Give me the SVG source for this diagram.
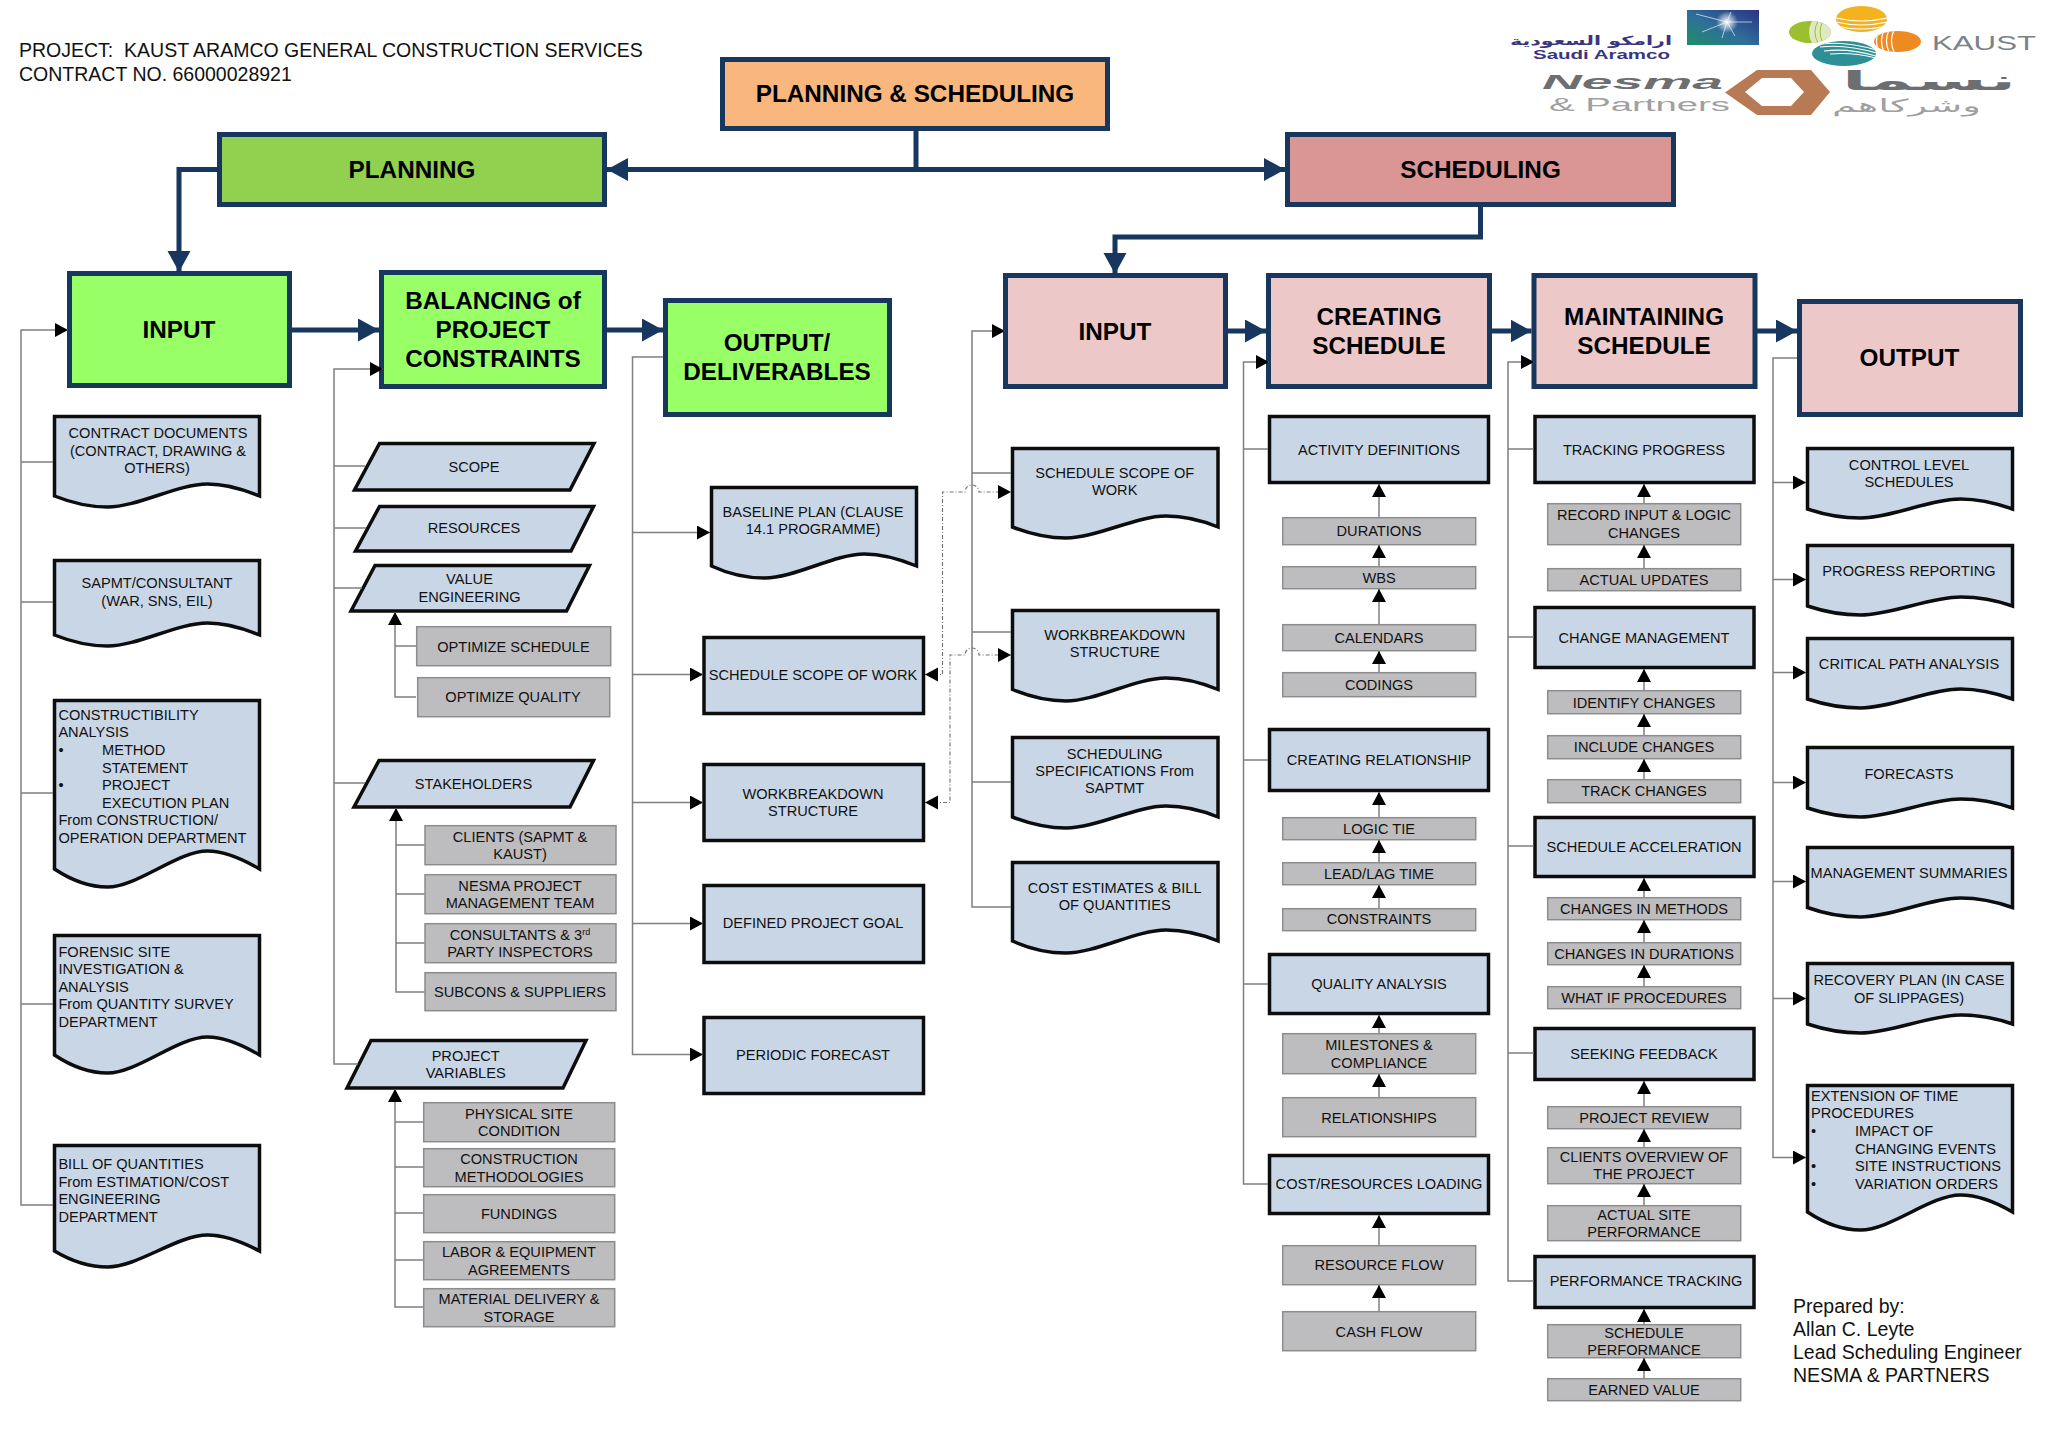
<svg xmlns="http://www.w3.org/2000/svg" width="2048" height="1448" viewBox="0 0 2048 1448">
<style>
text{font-family:"Liberation Sans",Arial,sans-serif;fill:#111}
.t{font-size:14.6px;text-anchor:middle;transform:translate(0,.7px)}
.l{font-size:14.6px;transform:translate(0,.7px)}
.h{font-size:24.3px;font-weight:bold;text-anchor:middle;fill:#000;transform:translate(0,.5px)}
.p{font-size:19.5px;white-space:pre}
.n{stroke:#17375e;stroke-width:5}
.b{fill:#c9d6e6;stroke:#0d0d0d;stroke-width:3.5}
.g{fill:#bdbcbf;stroke:#8c8c8c;stroke-width:1.5}
.thick{fill:none;stroke:#17375e;stroke-width:5}
.thin{fill:none;stroke:#7f7f7f;stroke-width:1.5}
.ar{marker-end:url(#ah)}
.nr{marker-end:url(#nh)}
.dash{fill:none;stroke:#777;stroke-width:1.2;stroke-dasharray:4 2 1 2;marker-start:url(#ah);marker-end:url(#ah)}
.st{fill:none;stroke:#fff;stroke-width:1.2}
</style>
<defs>
<marker id="ah" markerUnits="userSpaceOnUse" markerWidth="14" markerHeight="16" refX="13" refY="7" orient="auto-start-reverse"><path d="M0 0L13 7L0 14Z" fill="#000"/></marker>
<marker id="nh" markerUnits="userSpaceOnUse" markerWidth="22" markerHeight="24" refX="21" refY="11.5" orient="auto"><path d="M0 0L21 11.5L0 23Z" fill="#17375e"/></marker>
<linearGradient id="sa" x1="1" y1="0" x2="0" y2="1"><stop offset="0" stop-color="#2b3485"/><stop offset=".55" stop-color="#2f6f9a"/><stop offset="1" stop-color="#1f8f62"/></linearGradient>
<radialGradient id="st"><stop offset="0" stop-color="#fff"/><stop offset="1" stop-color="#fff" stop-opacity="0"/></radialGradient>
<clipPath id="cy"><ellipse cx="1861.500" cy="19" rx="25.500" ry="13"/></clipPath>
<clipPath id="co"><ellipse cx="1897.500" cy="41.500" rx="23.500" ry="10.500"/></clipPath>
<clipPath id="cg"><ellipse cx="1810" cy="32" rx="21" ry="11"/></clipPath>
<clipPath id="ct"><ellipse cx="1844" cy="53.500" rx="32" ry="12.500"/></clipPath>
</defs>
<rect width="2048" height="1448" fill="#fff"/>

<g id="header">
<text class="p" x="19" y="57" xml:space="preserve">PROJECT:  KAUST ARAMCO GENERAL CONSTRUCTION SERVICES</text>
<text class="p" x="19" y="80.5">CONTRACT NO. 66000028921</text>
</g>
<g id="logos">
<rect x="1687" y="10" width="72" height="35" fill="url(#sa)"/>
<circle cx="1727" cy="22" r="11" fill="url(#st)"/>
<path d="M1727 22L1696 14M1727 22L1752 22M1727 22L1735 36M1727 22L1722 38M1727 22L1702 32M1727 22L1731 12" stroke="#fff" stroke-width=".8" opacity=".8"/>
<text x="1510" y="45" font-size="12.500" font-weight="bold" textLength="162" lengthAdjust="spacingAndGlyphs" style="font-family:'DejaVu Sans',sans-serif;fill:#3a3580">ارامكو السعودية</text>
<text x="1533" y="58.500" font-size="12" font-weight="bold" textLength="137" lengthAdjust="spacingAndGlyphs" style="fill:#3a3580">Saudi Aramco</text>
<ellipse cx="1861.500" cy="19" rx="25.500" ry="13" fill="#f5b21f"/>
<g clip-path="url(#cy)"><path class="st" d="M1836 18q25 6 52 0M1836 22q25 6 52 0M1836 26q25 6 52 0"/></g>
<ellipse cx="1897.500" cy="41.500" rx="23.500" ry="10.500" fill="#ee8a22"/>
<g clip-path="url(#co)"><path class="st" d="M1879 30q-5 11 0 22M1884 30q-5 11 0 22M1889 30q-5 11 0 22M1894 30q-5 11 0 22"/></g>
<ellipse cx="1810" cy="32" rx="21" ry="11" fill="#9bbf2e"/>
<g clip-path="url(#cg)"><path d="M1812 21h20v22h-20q-6-11 0-22z" fill="#dfe8c0"/><path d="M1818 21q-6 11 0 22M1823 21q-6 11 0 22" fill="none" stroke="#9bbf2e" stroke-width="1"/></g>
<ellipse cx="1844" cy="53.500" rx="32" ry="12.500" fill="#2f8f97"/>
<g clip-path="url(#ct)"><path class="st" d="M1822 44q24-3 54 6M1820 47q26-3 56 6M1824 51q24-3 52 5M1830 54q22-2 46 4"/></g>
<text x="1932" y="50" font-size="19.500" textLength="104" lengthAdjust="spacingAndGlyphs" style="fill:#7a8488">KAUST</text>
<text x="1542" y="89" font-size="20" font-weight="bold" font-style="italic" textLength="181" lengthAdjust="spacingAndGlyphs" style="fill:#6d6e71">Nesma</text>
<text x="1549" y="111" font-size="18" textLength="181" lengthAdjust="spacingAndGlyphs" style="fill:#a0a0a0">&amp; Partners</text>
<path d="M1757 70H1811L1830 92L1811 115H1757L1725 92.500ZM1762 78L1745 92L1762 106H1791L1804 92L1791 78Z" fill="#b87a55" fill-rule="evenodd"/>
<text x="1842" y="90" font-size="26" font-weight="bold" textLength="174" lengthAdjust="spacingAndGlyphs" style="font-family:'DejaVu Sans',sans-serif;fill:#6d6e71">نسما</text>
<text x="1832" y="112" font-size="18" textLength="149" lengthAdjust="spacingAndGlyphs" style="font-family:'DejaVu Sans',sans-serif;fill:#a0a0a0">وشركاهم</text>
</g>

<g id="n-planning-scheduling"><rect class="n" x="722.500" y="59.500" width="385" height="69" fill="#f9b77e"/><text class="h" x="915" y="101">PLANNING &amp; SCHEDULING</text></g>
<g id="n-planning"><rect class="n" x="219.500" y="134.500" width="385" height="70" fill="#92d050"/><text class="h" x="412" y="177">PLANNING</text></g>
<g id="n-scheduling"><rect class="n" x="1287.500" y="134.500" width="386" height="70" fill="#d99694"/><text class="h" x="1480.500" y="177">SCHEDULING</text></g>
<g id="n-p-input"><rect class="n" x="69.500" y="273.500" width="220" height="112" fill="#99ff66"/><text class="h" x="179" y="337">INPUT</text></g>
<g id="n-balancing"><rect class="n" x="381.500" y="272.500" width="223" height="114" fill="#99ff66"/><text class="h" x="493" y="308">BALANCING of</text><text class="h" x="493" y="337.300">PROJECT</text><text class="h" x="493" y="366.700">CONSTRAINTS</text></g>
<g id="n-output-del"><rect class="n" x="665.500" y="300.500" width="224" height="114" fill="#99ff66"/><text class="h" x="777" y="350.300">OUTPUT/</text><text class="h" x="777" y="379.300">DELIVERABLES</text></g>
<g id="n-s-input"><rect class="n" x="1005.500" y="275.500" width="220" height="111" fill="#ecc9c8"/><text class="h" x="1115" y="339">INPUT</text></g>
<g id="n-creating"><rect class="n" x="1268.500" y="275.500" width="221" height="111" fill="#ecc9c8"/><text class="h" x="1379" y="324.300">CREATING</text><text class="h" x="1379" y="353.700">SCHEDULE</text></g>
<g id="n-maintaining"><rect class="n" x="1534" y="275.500" width="221" height="111" fill="#ecc9c8"/><text class="h" x="1644" y="324.300">MAINTAINING</text><text class="h" x="1644" y="353.700">SCHEDULE</text></g>
<g id="n-output"><rect class="n" x="1799.500" y="301.500" width="221" height="113" fill="#ecc9c8"/><text class="h" x="1909.500" y="365.700">OUTPUT</text></g>

<g id="d-contract"><path class="b" d="M54.500 416.500H259.500V496c-17-7-34-12-52-12c-30 0-70 23-100 23c-20 0-38-5-53-11z"/><text class="t" x="158" y="437.500">CONTRACT DOCUMENTS</text><text class="t" x="158" y="455">(CONTRACT, DRAWING &amp;</text><text class="t" x="157" y="472.500">OTHERS)</text></g>
<g id="d-sapmt"><path class="b" d="M54.500 560.500H259.500V635c-17-7-34-12-52-12c-30 0-70 23-100 23c-20 0-38-5-53-11z"/><text class="t" x="157" y="587.600">SAPMT/CONSULTANT</text><text class="t" x="157" y="605.300">(WAR, SNS, EIL)</text></g>
<g id="d-construct"><path class="b" d="M54.500 700.500H259.500V869c-17-10-34-18-52-18c-30 0-70 36-100 36c-20 0-38-8-53-18z"/><text class="l" x="58.400" y="719.300">CONSTRUCTIBILITY</text><text class="l" x="58.400" y="736.600">ANALYSIS</text><text class="l" x="58.400" y="754.600">•</text><text class="l" x="102" y="754.600">METHOD</text><text class="l" x="102" y="772">STATEMENT</text><text class="l" x="58.400" y="789.300">•</text><text class="l" x="102" y="789.300">PROJECT</text><text class="l" x="102" y="807">EXECUTION PLAN</text><text class="l" x="58.400" y="824.600">From CONSTRUCTION/</text><text class="l" x="58.400" y="842.300">OPERATION DEPARTMENT</text></g>
<g id="d-forensic"><path class="b" d="M54.500 935.500H259.500V1055c-17-10-34-18-52-18c-30 0-70 36-100 36c-20 0-38-8-53-18z"/><text class="l" x="58.400" y="956.300">FORENSIC SITE</text><text class="l" x="58.400" y="973.600">INVESTIGATION &amp;</text><text class="l" x="58.400" y="991.300">ANALYSIS</text><text class="l" x="58.400" y="1008.600">From QUANTITY SURVEY</text><text class="l" x="58.400" y="1026">DEPARTMENT</text></g>
<g id="d-bill"><path class="b" d="M54.500 1145.500H259.500V1251c-17-9-34-16-52-16c-30 0-70 32-100 32c-20 0-38-7-53-16z"/><text class="l" x="58.400" y="1168.600">BILL OF QUANTITIES</text><text class="l" x="58.400" y="1186.300">From ESTIMATION/COST</text><text class="l" x="58.400" y="1203.600">ENGINEERING</text><text class="l" x="58.400" y="1221.300">DEPARTMENT</text></g>

<g id="s-scope"><path class="b" d="M379.500 443.500H594L570 490H354.500Z"/><text class="t" x="474" y="471">SCOPE</text></g>
<g id="s-resources"><path class="b" d="M379.500 506.500H593.500L571 551H355.500Z"/><text class="t" x="474" y="532.300">RESOURCES</text></g>
<g id="s-value"><path class="b" d="M375 565.500H589.500L566.500 611H351Z"/><text class="t" x="469.500" y="583.600">VALUE</text><text class="t" x="469.500" y="601">ENGINEERING</text></g>
<g id="s-stakeholders"><path class="b" d="M379 760.500H593.500L570 807H354Z"/><text class="t" x="473.500" y="788">STAKEHOLDERS</text></g>
<g id="s-variables"><path class="b" d="M371 1040.500H586L563 1088H347Z"/><text class="t" x="465.700" y="1060">PROJECT</text><text class="t" x="465.700" y="1077.300">VARIABLES</text></g>
<g id="g-opt-schedule"><rect class="g" x="416.700" y="626.700" width="194" height="39"/><text class="t" x="513.500" y="651">OPTIMIZE SCHEDULE</text></g>
<g id="g-opt-quality"><rect class="g" x="417.700" y="677.700" width="192" height="39"/><text class="t" x="513" y="701.600">OPTIMIZE QUALITY</text></g>
<g id="g-clients"><rect class="g" x="425" y="825.700" width="191" height="39"/><text class="t" x="520" y="841.300">CLIENTS (SAPMT &amp;</text><text class="t" x="520" y="858.600">KAUST)</text></g>
<g id="g-nesma"><rect class="g" x="425" y="874.700" width="191" height="39"/><text class="t" x="520" y="890.300">NESMA PROJECT</text><text class="t" x="520" y="907.600">MANAGEMENT TEAM</text></g>
<g id="g-consultants"><rect class="g" x="425" y="923.700" width="191" height="39"/><text class="t" x="520" y="939.300">CONSULTANTS &amp; 3<tspan font-size="9" dy="-5">rd</tspan></text><text class="t" x="520" y="956.600">PARTY INSPECTORS</text></g>
<g id="g-subcons"><rect class="g" x="425" y="972.700" width="191" height="38"/><text class="t" x="520" y="996">SUBCONS &amp; SUPPLIERS</text></g>
<g id="g-physical"><rect class="g" x="423.700" y="1102.700" width="191" height="39"/><text class="t" x="519" y="1118">PHYSICAL SITE</text><text class="t" x="519" y="1135.300">CONDITION</text></g>
<g id="g-methods"><rect class="g" x="423.700" y="1148.700" width="191" height="38"/><text class="t" x="519" y="1163.300">CONSTRUCTION</text><text class="t" x="519" y="1181">METHODOLOGIES</text></g>
<g id="g-fundings"><rect class="g" x="423.700" y="1194.700" width="191" height="38"/><text class="t" x="519" y="1218">FUNDINGS</text></g>
<g id="g-labor"><rect class="g" x="423.700" y="1241.700" width="191" height="38"/><text class="t" x="519" y="1256.600">LABOR &amp; EQUIPMENT</text><text class="t" x="519" y="1274">AGREEMENTS</text></g>
<g id="g-material"><rect class="g" x="423.700" y="1288.700" width="191" height="38"/><text class="t" x="519" y="1303.600">MATERIAL DELIVERY &amp;</text><text class="t" x="519" y="1321">STORAGE</text></g>

<g id="d-baseline"><path class="b" d="M711.500 487.500H916.500V566c-17-7-34-12-52-12c-30 0-70 24-100 24c-20 0-38-5-53-12z"/><text class="t" x="813" y="516.300">BASELINE PLAN (CLAUSE</text><text class="t" x="813" y="533.600">14.1 PROGRAMME)</text></g>
<g id="b-scope-work"><rect class="b" x="704" y="637.500" width="219.500" height="76"/><text class="t" x="813" y="679.300">SCHEDULE SCOPE OF WORK</text></g>
<g id="b-wbs"><rect class="b" x="704" y="764.500" width="219.500" height="76"/><text class="t" x="813" y="798">WORKBREAKDOWN</text><text class="t" x="813" y="815.300">STRUCTURE</text></g>
<g id="b-goal"><rect class="b" x="704" y="885.500" width="219.500" height="77"/><text class="t" x="813" y="927.600">DEFINED PROJECT GOAL</text></g>
<g id="b-forecast"><rect class="b" x="704" y="1017.500" width="219.500" height="76"/><text class="t" x="813" y="1059">PERIODIC FORECAST</text></g>

<g id="d-s-scope"><path class="b" d="M1012.500 448.500H1218V527c-17-7-34-11-52-11c-30 0-70 22-100 22c-20 0-38-5-53.500-11z"/><text class="t" x="1114.700" y="477.300">SCHEDULE SCOPE OF</text><text class="t" x="1114.700" y="494.600">WORK</text></g>
<g id="d-s-wbs"><path class="b" d="M1012.500 610.500H1218V689.500c-17-7-34-11.500-52-11.500c-30 0-70 23-100 23c-20 0-38-5-53.500-11.500z"/><text class="t" x="1114.700" y="639.600">WORKBREAKDOWN</text><text class="t" x="1114.700" y="656.600">STRUCTURE</text></g>
<g id="d-s-spec"><path class="b" d="M1012.500 737.500H1218V817c-17-7-34-11-52-11c-30 0-70 22-100 22c-20 0-38-5-53.500-11z"/><text class="t" x="1114.700" y="758">SCHEDULING</text><text class="t" x="1114.700" y="775.300">SPECIFICATIONS From</text><text class="t" x="1114.700" y="792.600">SAPTMT</text></g>
<g id="d-s-cost"><path class="b" d="M1012.500 862.500H1218V941c-17-7-34-11-52-11c-30 0-70 23-100 23c-20 0-38-5-53.500-12z"/><text class="t" x="1114.700" y="892">COST ESTIMATES &amp; BILL</text><text class="t" x="1114.700" y="909">OF QUANTITIES</text></g>

<g id="b-activity"><rect class="b" x="1269.500" y="416.500" width="219" height="66"/><text class="t" x="1379" y="454">ACTIVITY DEFINITIONS</text></g>
<g id="g-durations"><rect class="g" x="1282.700" y="517.700" width="193" height="27"/><text class="t" x="1379" y="535.300">DURATIONS</text></g>
<g id="g-wbs"><rect class="g" x="1282.700" y="566.700" width="193" height="22"/><text class="t" x="1379" y="582">WBS</text></g>
<g id="g-calendars"><rect class="g" x="1282.700" y="624.700" width="193" height="26"/><text class="t" x="1379" y="642">CALENDARS</text></g>
<g id="g-codings"><rect class="g" x="1282.700" y="672.700" width="193" height="24"/><text class="t" x="1379" y="689.300">CODINGS</text></g>
<g id="b-relationship"><rect class="b" x="1269.500" y="729.500" width="219" height="61"/><text class="t" x="1379" y="764">CREATING RELATIONSHIP</text></g>
<g id="g-logic"><rect class="g" x="1282.700" y="817.700" width="193" height="22"/><text class="t" x="1379" y="833.300">LOGIC TIE</text></g>
<g id="g-lead"><rect class="g" x="1282.700" y="862.700" width="193" height="22"/><text class="t" x="1379" y="878.300">LEAD/LAG TIME</text></g>
<g id="g-constraints"><rect class="g" x="1282.700" y="908.700" width="193" height="22"/><text class="t" x="1379" y="923.600">CONSTRAINTS</text></g>
<g id="b-quality"><rect class="b" x="1269.500" y="954.500" width="219" height="59"/><text class="t" x="1379" y="988">QUALITY ANALYSIS</text></g>
<g id="g-milestones"><rect class="g" x="1282.700" y="1033.700" width="193" height="40"/><text class="t" x="1379" y="1049.600">MILESTONES &amp;</text><text class="t" x="1379" y="1067">COMPLIANCE</text></g>
<g id="g-relationships"><rect class="g" x="1282.700" y="1097.700" width="193" height="39"/><text class="t" x="1379" y="1122">RELATIONSHIPS</text></g>
<g id="b-cost"><rect class="b" x="1269.500" y="1155.500" width="219" height="58"/><text class="t" x="1379" y="1188.600">COST/RESOURCES LOADING</text></g>
<g id="g-resource"><rect class="g" x="1282.700" y="1245.700" width="193" height="39"/><text class="t" x="1379" y="1269.300">RESOURCE FLOW</text></g>
<g id="g-cash"><rect class="g" x="1282.700" y="1311.700" width="193" height="39"/><text class="t" x="1379" y="1336">CASH FLOW</text></g>

<g id="b-tracking"><rect class="b" x="1535" y="416.500" width="219" height="66"/><text class="t" x="1644" y="454">TRACKING PROGRESS</text></g>
<g id="g-record"><rect class="g" x="1547.700" y="503.700" width="193" height="41"/><text class="t" x="1644" y="519.600">RECORD INPUT &amp; LOGIC</text><text class="t" x="1644" y="537.600">CHANGES</text></g>
<g id="g-actual"><rect class="g" x="1547.700" y="568.700" width="193" height="22"/><text class="t" x="1644" y="584.300">ACTUAL UPDATES</text></g>
<g id="b-change"><rect class="b" x="1535" y="607.500" width="219" height="60"/><text class="t" x="1644" y="642">CHANGE MANAGEMENT</text></g>
<g id="g-identify"><rect class="g" x="1547.700" y="690.700" width="193" height="23"/><text class="t" x="1644" y="707">IDENTIFY CHANGES</text></g>
<g id="g-include"><rect class="g" x="1547.700" y="735.700" width="193" height="23"/><text class="t" x="1644" y="751.600">INCLUDE CHANGES</text></g>
<g id="g-track"><rect class="g" x="1547.700" y="779.700" width="193" height="23"/><text class="t" x="1644" y="795.300">TRACK CHANGES</text></g>
<g id="b-accel"><rect class="b" x="1535" y="817.500" width="219" height="59"/><text class="t" x="1644" y="851">SCHEDULE ACCELERATION</text></g>
<g id="g-methods2"><rect class="g" x="1547.700" y="897.700" width="193" height="22"/><text class="t" x="1644" y="913.600">CHANGES IN METHODS</text></g>
<g id="g-durations2"><rect class="g" x="1547.700" y="942.700" width="193" height="22"/><text class="t" x="1644" y="958.300">CHANGES IN DURATIONS</text></g>
<g id="g-whatif"><rect class="g" x="1547.700" y="986.700" width="193" height="22"/><text class="t" x="1644" y="1002">WHAT IF PROCEDURES</text></g>
<g id="b-seeking"><rect class="b" x="1535" y="1028.500" width="219" height="51"/><text class="t" x="1644" y="1058">SEEKING FEEDBACK</text></g>
<g id="g-review"><rect class="g" x="1547.700" y="1106.700" width="193" height="22"/><text class="t" x="1644" y="1122">PROJECT REVIEW</text></g>
<g id="g-overview"><rect class="g" x="1547.700" y="1147.700" width="193" height="36"/><text class="t" x="1644" y="1161.300">CLIENTS OVERVIEW OF</text><text class="t" x="1644" y="1178.600">THE PROJECT</text></g>
<g id="g-site"><rect class="g" x="1547.700" y="1205.700" width="193" height="35"/><text class="t" x="1644" y="1219.300">ACTUAL SITE</text><text class="t" x="1644" y="1236.600">PERFORMANCE</text></g>
<g id="b-perf"><rect class="b" x="1535" y="1256.500" width="219" height="51"/><text class="t" x="1646" y="1285.300">PERFORMANCE TRACKING</text></g>
<g id="g-schedperf"><rect class="g" x="1547.700" y="1324.700" width="193" height="33"/><text class="t" x="1644" y="1337">SCHEDULE</text><text class="t" x="1644" y="1354.300">PERFORMANCE</text></g>
<g id="g-earned"><rect class="g" x="1547.700" y="1378.700" width="193" height="22"/><text class="t" x="1644" y="1394.300">EARNED VALUE</text></g>

<g id="d-control"><path class="b" d="M1807.500 448.500H2012.500V509c-17-6-34-10-52-10c-30 0-70 19-100 19c-20 0-38-4-53-9z"/><text class="t" x="1909" y="469.300">CONTROL LEVEL</text><text class="t" x="1909" y="486.600">SCHEDULES</text></g>
<g id="d-progress"><path class="b" d="M1807.500 545.500H2012.500V606c-17-6-34-9-52-9c-30 0-70 18-100 18c-20 0-38-4-53-9z"/><text class="t" x="1909" y="575">PROGRESS REPORTING</text></g>
<g id="d-critical"><path class="b" d="M1807.500 638.500H2012.500V699c-17-6-34-10-52-10c-30 0-70 19-100 19c-20 0-38-4-53-9z"/><text class="t" x="1909" y="668.300">CRITICAL PATH ANALYSIS</text></g>
<g id="d-forecasts"><path class="b" d="M1807.500 747.500H2012.500V808c-17-6-34-9-52-9c-30 0-70 18-100 18c-20 0-38-4-53-9z"/><text class="t" x="1909" y="778">FORECASTS</text></g>
<g id="d-mgmt"><path class="b" d="M1807.500 847.500H2012.500V907.500c-17-6-34-9.500-52-9.500c-30 0-70 19-100 19c-20 0-38-4-53-9.500z"/><text class="t" x="1909" y="877.300">MANAGEMENT SUMMARIES</text></g>
<g id="d-recovery"><path class="b" d="M1807.500 963.500H2012.500V1024c-17-6-34-9-52-9c-30 0-70 18-100 18c-20 0-38-4-53-9z"/><text class="t" x="1909" y="984.600">RECOVERY PLAN (IN CASE</text><text class="t" x="1909" y="1002">OF SLIPPAGES)</text></g>
<g id="d-eot"><path class="b" d="M1807.500 1085.500H2012.500V1212c-17-10-34-17-52-17c-30 0-70 35-100 35c-20 0-38-8-53-18z"/><text class="l" x="1811" y="1100.300">EXTENSION OF TIME</text><text class="l" x="1811" y="1117.600">PROCEDURES</text><text class="l" x="1811" y="1135.600">•</text><text class="l" x="1855" y="1135.600">IMPACT OF</text><text class="l" x="1855" y="1153">CHANGING EVENTS</text><text class="l" x="1811" y="1170.600">•</text><text class="l" x="1855" y="1170.600">SITE INSTRUCTIONS</text><text class="l" x="1811" y="1188.600">•</text><text class="l" x="1855" y="1188.600">VARIATION ORDERS</text></g>

<g id="prepared">
<text class="p" x="1793" y="1313">Prepared by:</text>
<text class="p" x="1793" y="1336">Allan C. Leyte</text>
<text class="p" x="1793" y="1359">Lead Scheduling Engineer</text>
<text class="p" x="1793" y="1382">NESMA &amp; PARTNERS</text>
</g>

<g id="connectors">
<path class="thick" d="M916 131V169.500"/>
<path class="thick nr" d="M916 169.500H607"/>
<path class="thick nr" d="M916 169.500H1285"/>
<path class="thick nr" d="M217 169.500H179V272"/>
<path class="thick nr" d="M1480.500 207V237H1115V274"/>
<path class="thick nr" d="M292 330H379"/>
<path class="thick nr" d="M607 330H663"/>
<path class="thick nr" d="M1228 331H1266"/>
<path class="thick nr" d="M1492 331H1531.500"/>
<path class="thick nr" d="M1757 331H1797"/>

<path class="thin ar" d="M53 1205H21V330H68"/>
<path class="thin" d="M21 462H53M21 602H53M21 793H53M21 1004H53"/>
<path class="thin ar" d="M358 1064H334V369H383"/>
<path class="thin" d="M334 466H365M334 528H366M334 588H362M334 783H365"/>
<path class="thin ar" d="M416 697H395V612"/>
<path class="thin" d="M395 646H416"/>
<path class="thin ar" d="M424.500 992H396V808"/>
<path class="thin" d="M396 845H424.500M396 894H424.500M396 943H424.500"/>
<path class="thin ar" d="M423 1307H395V1089"/>
<path class="thin" d="M395 1122H423M395 1167H423M395 1213H423M395 1260H423"/>
<path class="thin ar" d="M663 357H632.500V1054.500H703"/>
<path class="thin ar" d="M632.500 532.500H710"/>
<path class="thin ar" d="M632.500 674.500H703"/>
<path class="thin ar" d="M632.500 802.500H703"/>
<path class="thin ar" d="M632.500 923.500H703"/>
<path class="dash" d="M925 674.500H942.500V492H965a7 7 0 0 1 14 0H1011"/>
<path class="dash" d="M925 802.500H950V655H965a7 7 0 0 1 14 0H1011"/>
<path class="thin ar" d="M1011 907H972V331H1005"/>
<path class="thin" d="M972 473H1011M972 632H1011M972 782H1011"/>
<path class="thin ar" d="M1268 1184H1243.500V362H1269"/>
<path class="thin" d="M1243.500 449H1268M1243.500 760H1268M1243.500 984H1268"/>
<path class="thin ar" d="M1533.500 1281H1508V362H1534"/>
<path class="thin" d="M1508 449H1533.500M1508 637H1533.500M1508 846H1533.500M1508 1053H1533.500"/>
<path class="thin ar" d="M1797 358H1773V1157.500H1806"/>
<path class="thin ar" d="M1773 482.500H1806"/>
<path class="thin ar" d="M1773 579.500H1806"/>
<path class="thin ar" d="M1773 672.500H1806"/>
<path class="thin ar" d="M1773 782.500H1806"/>
<path class="thin ar" d="M1773 881.500H1806"/>
<path class="thin ar" d="M1773 998.500H1806"/>

<path class="thin ar" d="M1379 517V484"/>
<path class="thin ar" d="M1379 566V545"/>
<path class="thin ar" d="M1379 624V589"/>
<path class="thin ar" d="M1379 672V651"/>
<path class="thin ar" d="M1379 817V792"/>
<path class="thin ar" d="M1379 862V840"/>
<path class="thin ar" d="M1379 908V885"/>
<path class="thin ar" d="M1379 1033V1015"/>
<path class="thin ar" d="M1379 1097V1074"/>
<path class="thin ar" d="M1379 1245V1215"/>
<path class="thin ar" d="M1379 1311V1285"/>

<path class="thin ar" d="M1644 503V484"/>
<path class="thin ar" d="M1644 568V545"/>
<path class="thin ar" d="M1644 690V669"/>
<path class="thin ar" d="M1644 735V714"/>
<path class="thin ar" d="M1644 779V759"/>
<path class="thin ar" d="M1644 897V878"/>
<path class="thin ar" d="M1644 942V920"/>
<path class="thin ar" d="M1644 986V965"/>
<path class="thin ar" d="M1644 1106V1081"/>
<path class="thin ar" d="M1644 1147V1129"/>
<path class="thin ar" d="M1644 1205V1184"/>
<path class="thin ar" d="M1644 1324V1309"/>
<path class="thin ar" d="M1644 1378V1358"/>
</g>
</svg>
